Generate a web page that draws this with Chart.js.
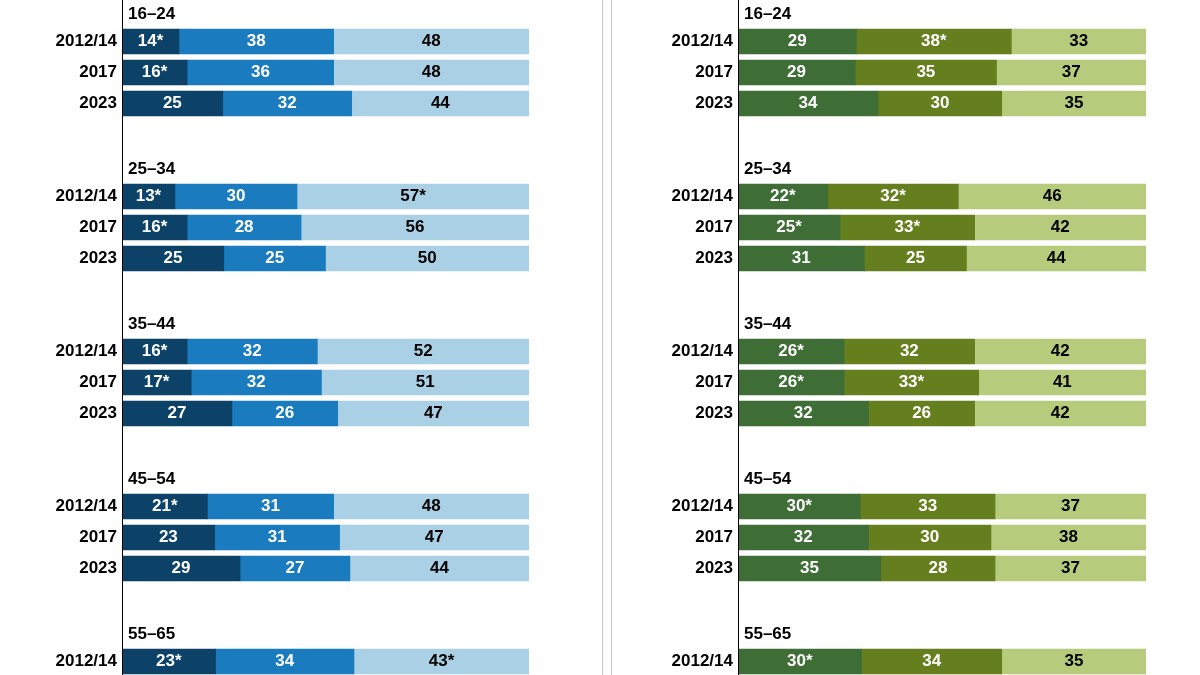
<!DOCTYPE html>
<html><head><meta charset="utf-8">
<script src="https://cdn.jsdelivr.net/npm/chart.js@4.4.1/dist/chart.umd.min.js"></script>
<style>
html,body{margin:0;padding:0;background:#fff;width:1200px;height:675px;overflow:hidden;}
.panel{position:absolute;top:0;height:700px;}
#left{left:0;width:600px;}
#right{left:616px;width:584px;}
.divider{position:absolute;top:0;height:675px;width:1px;background:#c4c4c4;}
</style></head><body>
<div class="divider" style="left:602px"></div>
<div class="divider" style="left:611px"></div>
<div id="left" class="panel"><canvas id="c1"></canvas></div>
<div id="right" class="panel"><canvas id="c2"></canvas></div>
<script>
// ---- data (rows in reading order; only the rows visible in the picture) ----
const ageGroups = ['16–24','25–34','35–44','45–54','55–65'];
const rowYears  = ['2012/14','2017','2023','2012/14','2017','2023','2012/14','2017','2023','2012/14','2017','2023','2012/14'];
const rowGroup  = [0,0,0,1,1,1,2,2,2,3,3,3,4];

const blueDark  = [14,16,25, 13,16,25, 16,17,27, 21,23,29, 23];
const blueMid   = [38,36,32, 30,28,25, 32,32,26, 31,31,27, 34];
const blueLight = [48,48,44, 57,56,50, 52,51,47, 48,47,44, 43];
const blueDarkSig  = [1,1,0, 1,1,0, 1,1,0, 1,0,0, 1];
const blueMidSig   = [0,0,0, 0,0,0, 0,0,0, 0,0,0, 0];
const blueLightSig = [0,0,0, 1,0,0, 0,0,0, 0,0,0, 1];

const greenDark  = [29,29,34, 22,25,31, 26,26,32, 30,32,35, 30];
const greenMid   = [38,35,30, 32,33,25, 32,33,26, 33,30,28, 34];
const greenLight = [33,37,35, 46,42,44, 42,41,42, 37,38,37, 35];
const greenDarkSig  = [0,0,0, 1,1,0, 1,1,0, 1,0,0, 1];
const greenMidSig   = [1,0,0, 1,1,0, 0,1,0, 0,0,0, 0];
const greenLightSig = [0,0,0, 0,0,0, 0,0,0, 0,0,0, 0];

const blueColors  = ['#0d4268','#1a7bbf','#a9d0e5'];
const greenColors = ['#3e6d36','#667f1e','#b6cc7c'];
const labelColors = ['#ffffff','#ffffff','#000000'];
const FONT = '"Liberation Sans", Arial, sans-serif';

// ---- build slot layout: 3 bars per group, 2 blank slots between groups ----
function buildSlots() {
  const cats = [], rowToSlot = [], groupFirstSlot = {};
  rowYears.forEach((y, r) => {
    if (r > 0 && rowGroup[r] !== rowGroup[r-1]) { cats.push(''); cats.push(''); }
    if (groupFirstSlot[rowGroup[r]] === undefined) groupFirstSlot[rowGroup[r]] = cats.length;
    rowToSlot.push(cats.length);
    cats.push(y);
  });
  return {cats, rowToSlot, groupFirstSlot};
}
const slots = buildSlots();

function toSlots(values, rows) {
  // 100% stacked: share of each row's total
  const out = new Array(slots.cats.length).fill(null);
  values.forEach((v, r) => {
    const tot = rows[0][r] + rows[1][r] + rows[2][r];
    out[slots.rowToSlot[r]] = v / tot * 100;
  });
  return out;
}

const labelsPlugin = {
  id: 'segLabels',
  afterDatasetsDraw(chart, args, opts) {
    const ctx = chart.ctx;
    ctx.save();
    ctx.font = 'bold 17px ' + FONT;
    ctx.textAlign = 'center';
    ctx.textBaseline = 'middle';
    chart.data.datasets.forEach((ds, di) => {
      const meta = chart.getDatasetMeta(di);
      ds.raw.forEach((v, r) => {
        const el = meta.data[slots.rowToSlot[r]];
        const txt = v + (ds.sig[r] ? '*' : '');
        ctx.fillStyle = labelColors[di];
        ctx.fillText(txt, (el.x + el.base) / 2, el.y);
      });
    });
    // group labels
    ctx.fillStyle = '#000';
    ctx.textAlign = 'left';
    const ys = chart.scales.y;
    Object.keys(slots.groupFirstSlot).forEach(g => {
      const y = ys.getPixelForValue(slots.groupFirstSlot[g]);
      ctx.fillText(ageGroups[g], chart.chartArea.left + 6, y - 27);
    });
    // axis line
    ctx.strokeStyle = '#000';
    ctx.lineWidth = 1;
    ctx.beginPath();
    ctx.moveTo(chart.chartArea.left + 0.5, 0);
    ctx.lineTo(chart.chartArea.left + 0.5, chart.height);
    ctx.stroke();
    ctx.restore();
  }
};

function makeChart(id, rows, sigs, colors, padRight) {
  return new Chart(document.getElementById(id), {
    type: 'bar',
    data: {
      labels: slots.cats,
      datasets: rows.map((vals, i) => ({
        data: toSlots(vals, rows),
        raw: vals,
        sig: sigs[i],
        backgroundColor: colors[i],
        borderWidth: 0,
        barThickness: 25
      }))
    },
    options: {
      indexAxis: 'y',
      responsive: true,
      maintainAspectRatio: false,
      animation: false,
      devicePixelRatio: 1,
      layout: { padding: { top: 26, bottom: 23, left: 0, right: padRight } },
      plugins: { legend: { display: false }, tooltip: { enabled: false } },
      scales: {
        x: { stacked: true, min: 0, max: 100, display: false },
        y: {
          stacked: true,
          grid: { display: false, drawTicks: false },
          border: { display: false },
          ticks: { autoSkip: false, color: '#000', padding: 5, font: { family: FONT, size: 17, weight: 'bold' } },
          afterFit(scale) { scale.width = 122; }
        }
      }
    },
    plugins: [labelsPlugin]
  });
}

makeChart('c1', [blueDark, blueMid, blueLight], [blueDarkSig, blueMidSig, blueLightSig], blueColors, 71);
makeChart('c2', [greenDark, greenMid, greenLight], [greenDarkSig, greenMidSig, greenLightSig], greenColors, 54);
</script>
</body></html>
